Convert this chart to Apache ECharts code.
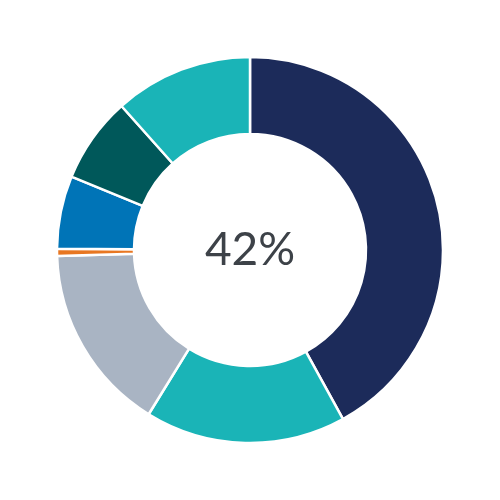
<!DOCTYPE html>
<html>
<head>
<meta charset="utf-8">
<script src="https://cdn.jsdelivr.net/npm/echarts@6/dist/echarts.min.js"></script>
<style>
  html, body { margin: 0; padding: 0; background: #fff; }
  #chart { width: 500px; height: 500px; }
</style>
</head>
<body>
<div id="chart"></div>
<script>
// Slice shares (percent), clockwise from 12 o'clock
const sliceNames = ['A', 'B', 'C', 'D', 'E', 'F', 'G'];
const sliceValues = [42, 16.8, 15.7, 0.6, 6.1, 7.2, 11.6];
const sliceColors = ['#1c2b5a', '#1ab4b7', '#a9b4c3', '#e87722', '#0074b7', '#00585a', '#1ab4b7'];
const centerLabel = '42%';

const chart = echarts.init(document.getElementById('chart'));

const option = {
  animation: false,
  title: {
    text: centerLabel,
    left: 'center',
    top: 'middle',
    textStyle: {
      fontFamily: 'Lato',
      fontSize: 46,
      fontWeight: 'normal',
      color: '#3d4248'
    }
  },
  series: [{
    type: 'pie',
    radius: [116, 193],
    center: [250, 250],
    startAngle: 90,
    clockwise: true,
    label: { show: false },
    labelLine: { show: false },
    itemStyle: {
      borderColor: '#fff',
      borderWidth: 2.5
    },
    data: sliceNames.map((name, i) => ({
      name: name,
      value: sliceValues[i],
      itemStyle: { color: sliceColors[i] }
    }))
  }]
};

chart.setOption(option);
</script>
</body>
</html>
